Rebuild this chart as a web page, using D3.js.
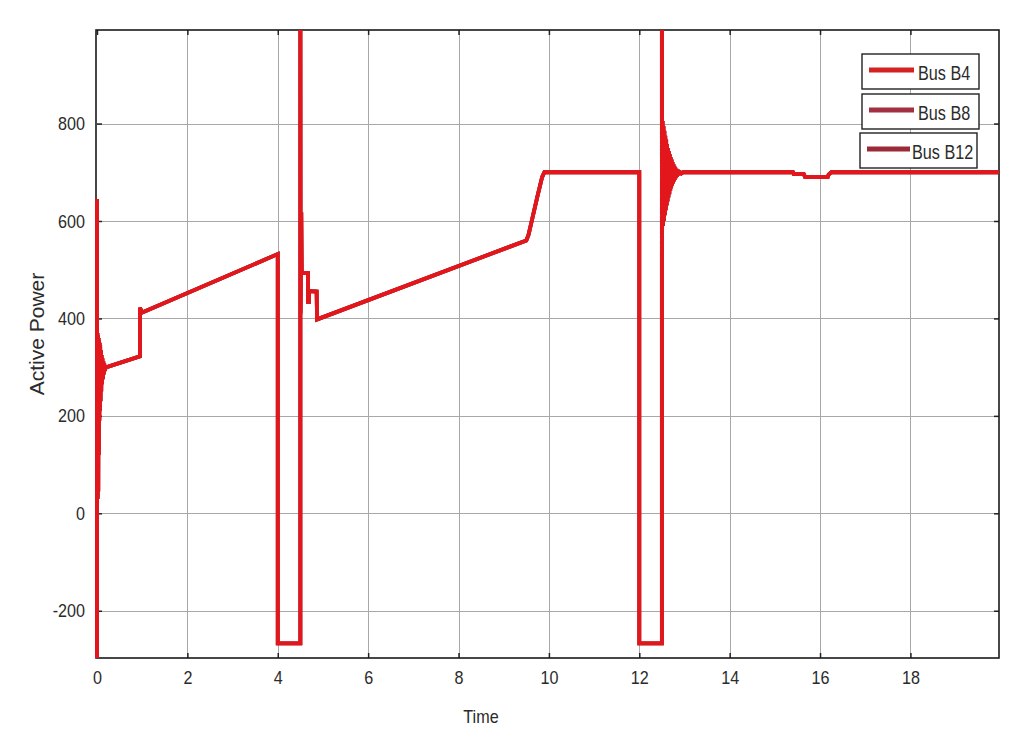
<!DOCTYPE html>
<html><head><meta charset="utf-8">
<script src="https://cdn.jsdelivr.net/npm/d3@7"></script>
<style>
body{margin:0;background:#fff}
text{font-family:"Liberation Sans",Arial,sans-serif;fill:#2b2b2b}
</style>
</head><body>
<svg id="chart" width="1023" height="745"></svg>
<script>
// ---------- data ----------
const seriesNames = ["Bus B4", "Bus B8", "Bus B12"];
const xTickValues = [0, 2, 4, 6, 8, 10, 12, 14, 16, 18];
const yTickValues = [-200, 0, 200, 400, 600, 800];
const xLabel = "Time";
const yLabel = "Active Power";

// time (s) of Bus B4 trace
const timeB4 = [
  0, 0, 0.004, 0.01, 0.016, 0.022, 0.028, 0.034, 0.04, 0.046, 0.052, 0.058, 0.064, 0.07,
  0.078, 0.086, 0.094, 0.102, 0.11, 0.12, 0.13, 0.14, 0.15, 0.16, 0.17, 0.18, 0.19, 0.2, 0.25,
  0.95, 0.95, 1.0, 4.0, 4.0, 4.5, 4.5, 4.505, 4.52, 4.53, 4.67, 4.67, 4.69, 4.69, 4.86, 4.87,
  9.5, 9.55, 9.65, 9.75, 9.85, 9.9, 12.0, 12.0, 12.5, 12.5,
  12.505, 12.515, 12.525, 12.535, 12.545, 12.555, 12.565, 12.575, 12.585, 12.595, 12.605,
  12.615, 12.625, 12.635, 12.645, 12.655, 12.665, 12.675, 12.685, 12.695, 12.705, 12.715,
  12.725, 12.735, 12.745, 12.755, 12.765, 12.775, 12.785, 12.795, 12.805, 12.82, 12.835,
  12.85, 12.865, 12.88, 12.9, 12.92, 12.94, 12.97,
  15.4, 15.42, 15.64, 15.67, 16.17, 16.19, 16.25, 19.96
];
// active power of Bus B4 trace
const powerB4 = [
  -340, 645, 40, 370, 30, 365, 45, 360, 120, 355, 190, 350, 210, 345,
  230, 335, 250, 325, 265, 318, 275, 312, 285, 307, 292, 303, 297, 300, 301,
  322, 422, 412, 532, -267, -267, 1100, 410, 618, 493, 493, 434, 434, 456, 455, 398,
  560, 572, 612, 652, 690, 700, 700, -267, -267, 1100,
  580, 805, 590, 795, 600, 785, 612, 775, 622, 767, 632,
  758, 640, 750, 648, 743, 655, 737, 662, 731, 667, 726,
  672, 721, 677, 717, 681, 713, 685, 710, 688, 707, 691,
  705, 694, 703, 696, 702, 698, 700,
  700, 696, 696, 690, 690, 695, 700, 700
];
// Bus B8 and Bus B12 lie exactly under Bus B4 in the picture
const timeB8 = timeB4.slice(), powerB8 = powerB4.slice();
const timeB12 = timeB4.slice(), powerB12 = powerB4.slice();

// ---------- styles ----------
const lineColors = ["#e3171b", "#a52c38", "#982530"];
const legendColors = ["#d42222", "#a33040", "#9a2a38"];

const series = [
  {name: seriesNames[2], t: timeB12, v: powerB12, color: lineColors[2], lc: legendColors[2]},
  {name: seriesNames[1], t: timeB8, v: powerB8, color: lineColors[1], lc: legendColors[1]},
  {name: seriesNames[0], t: timeB4, v: powerB4, color: lineColors[0], lc: legendColors[0]}
];

// squeeze text horizontally (reference glyphs are narrow)
function condense(sel, k) {
  sel.each(function () {
    const w = this.getComputedTextLength();
    d3.select(this).attr("textLength", w * k).attr("lengthAdjust", "spacingAndGlyphs");
  });
}

const svg = d3.select("#chart");
const L = 97, R = 999, T = 30, B = 658;
const x = d3.scaleLinear().domain([0, 19.96]).range([L, R]);
const y = d3.scaleLinear().domain([-297, 992]).range([B, T]);

svg.append("rect").attr("width", 1023).attr("height", 745).attr("fill", "#fff");

// grid
const grid = svg.append("g").attr("stroke", "#a8a8a8").attr("stroke-width", 1);
grid.selectAll("line.gx").data(xTickValues.filter(d => d > 0)).join("line")
  .attr("x1", d => Math.round(x(d)) + 0.5).attr("x2", d => Math.round(x(d)) + 0.5)
  .attr("y1", T).attr("y2", B);
grid.selectAll("line.gy").data(yTickValues).join("line")
  .attr("y1", d => Math.round(y(d)) + 0.5).attr("y2", d => Math.round(y(d)) + 0.5)
  .attr("x1", L).attr("x2", R);

// axes (inward ticks, MATLAB style)
const fmt = d => String(d);
const xAxisB = d3.axisBottom(x).tickValues(xTickValues).tickSize(-5).tickPadding(13).tickFormat(fmt);
const xAxisT = d3.axisTop(x).tickValues(xTickValues).tickSize(-5).tickFormat("");
const yAxisL = d3.axisLeft(y).tickValues(yTickValues).tickSize(-5).tickPadding(12).tickFormat(fmt);
const yAxisR = d3.axisRight(y).tickValues(yTickValues).tickSize(-5).tickFormat("");

function style(g) {
  g.select(".domain").remove();
  g.attr("font-family", null).attr("font-size", null);
  g.selectAll(".tick line").attr("stroke", "#222").attr("stroke-width", 1.5);
  g.selectAll(".tick text").attr("font-size", 19).attr("fill", "#2b2b2b");
}
svg.append("g").attr("transform", `translate(0,${B})`).call(xAxisB).call(style);
svg.append("g").attr("transform", `translate(0,${T})`).call(xAxisT).call(style);
svg.append("g").attr("transform", `translate(${L},0)`).call(yAxisL).call(style);
svg.append("g").attr("transform", `translate(${R},0)`).call(yAxisR).call(style);
condense(svg.selectAll(".tick text"), 0.85);

// frame
svg.append("rect").attr("x", L - 1).attr("y", T).attr("width", R - L + 1).attr("height", B - T)
  .attr("fill", "none").attr("stroke", "#1a1a1a").attr("stroke-width", 1.6);

// lines
svg.append("clipPath").attr("id", "clip").append("rect")
  .attr("x", L - 10).attr("y", T).attr("width", R - L + 10).attr("height", B - T);
const line = d3.line().x(d => x(d[0])).y(d => y(d[1]));
svg.append("g").attr("clip-path", "url(#clip)")
  .selectAll("path").data(series).join("path")
  .attr("d", s => line(s.t.map((t, i) => [t, s.v[i]])))
  .attr("fill", "none").attr("stroke", s => s.color)
  .attr("stroke-width", 3.8).attr("stroke-linejoin", "miter").attr("stroke-miterlimit", 2);

// axis labels
svg.append("text").attr("x", 481).attr("y", 723).attr("text-anchor", "middle")
  .attr("font-size", 19).text(xLabel).call(condense, 0.85);
svg.append("text").attr("transform", `translate(44,334) rotate(-90)`)
  .attr("text-anchor", "middle").attr("font-size", 21).text(yLabel);

// legend: one boxed entry per series
const legendOrder = [series[2], series[1], series[0]];
const leg = svg.append("g");
legendOrder.forEach((s, i) => {
  const by = 54 + i * 40 - (i === 2 ? 1 : 0);
  const bx = i === 2 ? 860 : 862;
  const g = leg.append("g").attr("transform", `translate(${bx},${by})`);
  g.append("rect").attr("width", 117).attr("height", 35).attr("fill", "#fff")
    .attr("stroke", "#222").attr("stroke-width", 1.4);
  g.append("line").attr("x1", 7).attr("x2", i === 2 ? 50 : 52)
    .attr("y1", 16).attr("y2", 16).attr("stroke", s.lc).attr("stroke-width", 5);
  g.append("text").attr("x", i === 2 ? 52 : 56).attr("y", 25.5).attr("font-size", 19.5)
    .text(s.name).call(condense, 0.83);
});
</script>
</body></html>
